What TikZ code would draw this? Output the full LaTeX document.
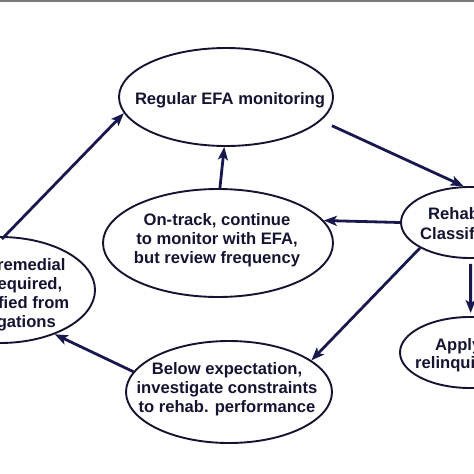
\documentclass[tikz,border=0pt]{standalone}
\usepackage{fontspec}
\setmainfont{Liberation Sans}
\usetikzlibrary{arrows.meta,shapes.geometric}
\definecolor{navy}{RGB}{24,24,78}
\definecolor{ink}{RGB}{20,20,50}
\definecolor{barcol}{RGB}{122,122,122}
\tikzset{
  oval/.style={ellipse, draw=ink, line width=1.9pt, inner sep=0pt},
  txt/.style={text=ink, font=\bfseries\fontsize{16.6}{19}\selectfont, align=center, inner sep=0pt},
  arr/.style={draw=navy, line width=2.8pt, -{Stealth[length=13pt,width=10pt,inset=3pt]}}
}
\begin{document}
\begin{tikzpicture}[x=1pt,y=-1pt]
\useasboundingbox (0,0) rectangle (474,474);
\clip (0,0) rectangle (474,474);
\fill[barcol] (0,0) rectangle (474,2.4);
% ellipses
\node[oval, minimum width=214pt, minimum height=98pt] (reg) at (226,97) {};
\node[oval, minimum width=230pt, minimum height=108pt] (ontrack) at (218,243) {};
\node[oval, minimum width=138pt, minimum height=71pt] (rehab) at (470,222.5) {};
\node[oval, minimum width=140pt, minimum height=71pt] (appl) at (470,352.5) {};
\node[oval, minimum width=206pt, minimum height=102pt] (below) at (229,392) {};
\node[oval, minimum width=190pt, minimum height=106pt] (remed) at (0,290) {};
% texts
\node[txt] (regT) at (230,100) {Regular EFA monitoring};
\node[txt] (ontrackT) at (217,240) {On-track, continue\\to monitor with EFA,\\but review frequency};
\node[txt] (belowT) at (227,389) {Below expectation,\\investigate constraints\\to rehab. performance};
\node[txt] (remedT) at (0,294.5) {Further remedial\\action required,\\as identified from\\investigations};
\node[txt, anchor=base west] (rehabA) at (428,219) {Rehab.};
\node[txt, anchor=base west] (rehabB) at (420,239) {Classification};
\node[txt, anchor=base west] (applA) at (435,350) {Apply to};
\node[txt, anchor=base west] (applB) at (415,368) {relinquish};
% connectors
\draw[arr, shorten <=12pt] (reg.-14) -- (rehab.100);
\draw[arr] (rehab.180) -- (ontrack.12);
\draw[arr] (ontrack.88) -- (reg.-92);
\draw[arr] (rehab.207) -- (below.21);
\draw[arr] (below.168) -- (remed.-39);
\draw[arr, shorten <=-4pt] (remed.85) -- (reg.189);
\draw[arr, shorten <=5pt, shorten >=3pt] (rehab.-89) -- (appl.89);
\end{tikzpicture}
\end{document}
